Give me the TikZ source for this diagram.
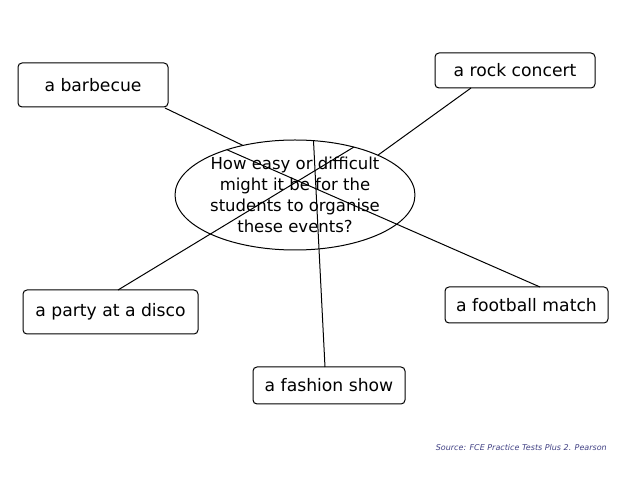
\documentclass[tikz,border=0pt]{standalone}
\usepackage{fontspec}
\setmainfont{DejaVu Sans}
\usetikzlibrary{shapes.geometric,intersections,calc}
\begin{document}
\begin{tikzpicture}[x=1pt,y=-1pt,
  box/.style={draw,rounded corners=4pt,line width=1pt,inner sep=0pt,font=\fontsize{17.2}{20}\selectfont},
  link/.style={line width=1pt}]
\useasboundingbox (0,0) rectangle (638,478);
\node[draw,ellipse,line width=1pt,minimum width=234,minimum height=110,inner sep=0pt,align=center,font=\fontsize{16.5}{21}\selectfont,name path=ell] (c) at (295,195) {How easy or difficult\\might it be for the\\students to organise\\these events?};
\node[box,minimum width=150,minimum height=44] (b) at (93,85) {a barbecue};
\node[box,minimum width=160,minimum height=35] (r) at (515,70.5) {a rock concert};
\node[box,minimum width=175,minimum height=44] (p) at (110.5,312) {a party at a disco};
\node[box,minimum width=163,minimum height=36] (f) at (526.5,305) {a football match};
\node[box,minimum width=152,minimum height=37] (s) at (329,385.5) {a fashion show};
\foreach \n/\ax/\ay/\bx/\by in {b/165/108/217/133, r/471/88/410/132, p/118/290/217/230, f/540/287/410/230, s/325/367/319/249}{
  \coordinate (\n1) at (\ax,\ay);
  \coordinate (\n2) at (\bx,\by);
  \path[name path=ray\n] (\n1) -- ($(\n1)!3!(\n2)$);
  \path[name intersections={of=ell and ray\n, by=\n3}];
  \draw[link] (\n1) -- (\n3);
}
\node[anchor=east,font=\fontsize{8}{10}\selectfont\itshape,text=blue!35!black!75,inner sep=0pt] (src) at (607,448) {Source: FCE Practice Tests Plus 2. Pearson};
\end{tikzpicture}
\end{document}
